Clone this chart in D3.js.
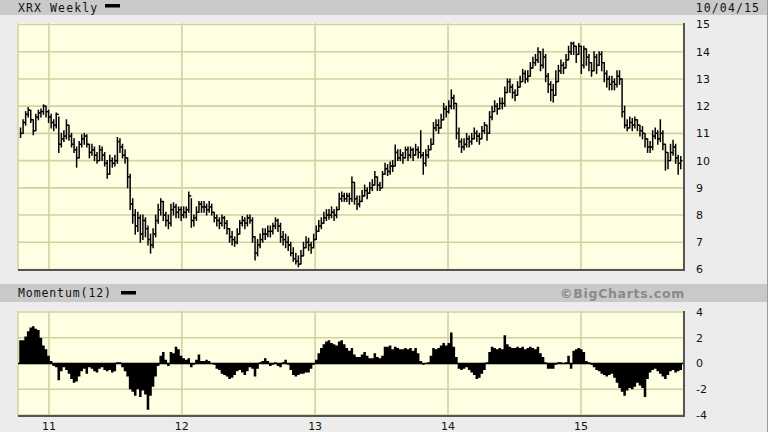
<!DOCTYPE html>
<html><head><meta charset="utf-8">
<script src="https://cdn.jsdelivr.net/npm/d3@7"></script>
<style>body{margin:0;background:#ececec;}svg{display:block}</style>
</head><body>
<svg id="c" width="768" height="432"></svg>
<script>
// ---- data (weekly bars, first week ending 2010-10-15) ----
const symbol = "XRX Weekly";
const dateLabel = "10/04/15";
const indicatorName = "Momentum(12)";
const firstWeek = "2010-10-15";
const highs = [
11.2,11.5,11.8,11.95,11.85,11.5,11.7,11.85,11.9,12.05,12.0,11.85,11.7,11.5,11.75,11.6,11.0,11.1,11.5,11.3,
11.0,10.8,10.5,10.7,10.95,11.0,10.95,10.6,10.6,10.5,10.3,10.55,10.5,10.3,10.0,10.2,10.1,10.2,10.85,10.8,
10.6,10.4,10.1,9.5,8.6,8.2,8.1,8.0,8.0,7.9,7.6,7.3,7.5,8.0,8.4,8.6,8.5,8.1,8.0,8.4,
8.45,8.4,8.3,8.3,8.3,8.3,8.85,8.6,8.0,8.3,8.5,8.5,8.5,8.4,8.5,8.4,8.1,8.0,7.9,8.0,
7.95,7.8,7.5,7.4,7.2,7.5,7.8,7.95,7.9,8.0,8.0,7.9,7.2,7.1,7.3,7.5,7.5,7.6,7.6,7.7,
7.9,7.85,7.7,7.4,7.3,7.2,7.0,6.8,6.6,6.5,6.7,7.0,7.2,7.15,7.0,7.3,7.6,7.8,7.9,8.1,
8.2,8.2,8.3,8.2,8.3,8.8,8.85,8.8,8.8,8.8,9.4,9.2,8.7,8.7,8.9,9.1,9.0,9.2,9.3,9.6,
9.4,9.2,9.6,9.9,9.85,9.95,10.0,10.57,10.4,10.4,10.3,10.5,10.5,10.5,10.45,10.6,10.5,11.1,10.3,10.4,
10.55,10.8,11.4,11.5,11.5,11.7,12.1,12.0,12.2,12.6,12.4,12.1,11.2,10.8,10.8,11.0,10.9,11.0,11.2,11.1,
11.0,11.25,11.4,11.3,11.8,12.0,12.2,12.1,12.3,12.3,12.7,13.0,13.0,12.8,12.6,12.9,13.1,13.35,13.3,13.3,
13.6,13.8,13.9,14.15,14.0,14.1,13.9,13.2,12.9,12.8,13.3,13.5,13.7,13.6,13.9,14.2,14.35,14.35,14.2,14.3,
14.2,14.2,14.1,13.9,13.6,14.0,13.9,14.0,14.0,13.6,13.3,13.1,13.1,13.0,13.3,13.3,13.0,12.0,11.5,11.6,
11.55,11.6,11.5,11.3,11.25,11.0,10.8,10.7,11.1,11.2,11.1,11.5,11.1,10.6,10.3,10.6,10.75,10.6,10.2,10.15];
const lows = [
10.85,11.0,11.3,11.6,11.4,10.95,11.1,11.5,11.6,11.7,11.6,11.4,11.2,11.1,11.2,10.3,10.5,10.7,10.8,10.75,
10.5,10.3,9.76,10.1,10.5,10.6,10.5,10.1,10.2,10.0,9.9,10.0,10.0,9.8,9.35,9.5,9.76,9.8,9.9,10.3,
10.1,9.9,9.0,8.2,7.7,7.3,7.4,7.0,7.1,7.2,6.9,6.6,6.8,7.2,7.7,8.0,7.8,7.6,7.5,7.6,
8.0,7.9,7.9,7.8,7.9,7.9,8.1,7.55,7.6,7.8,8.1,8.1,8.1,8.0,8.1,8.0,7.75,7.6,7.5,7.6,
7.5,7.3,7.0,6.9,6.85,6.95,7.3,7.6,7.5,7.6,7.7,7.0,6.35,6.5,6.8,7.0,7.1,7.2,7.2,7.3,
7.5,7.4,7.0,6.9,6.8,6.7,6.5,6.3,6.2,6.1,6.2,6.5,6.8,6.7,6.6,6.8,7.1,7.4,7.5,7.7,
7.8,7.85,7.9,7.8,7.9,8.2,8.5,8.5,8.5,8.4,8.5,8.4,8.2,8.3,8.5,8.7,8.6,8.8,8.9,9.1,
8.9,8.9,9.0,9.5,9.45,9.5,9.6,9.8,10.0,10.0,9.9,10.1,10.0,10.1,10.0,10.2,10.1,10.1,9.5,9.8,
10.1,10.4,10.6,11.1,11.0,11.2,11.5,11.6,11.75,11.9,11.9,10.8,10.5,10.3,10.4,10.5,10.5,10.6,10.8,10.7,
10.6,10.8,11.0,10.75,11.0,11.5,11.8,11.7,11.9,11.9,12.0,12.5,12.5,12.3,12.2,12.4,12.7,12.9,12.85,12.9,
13.1,13.4,13.5,13.6,13.3,13.4,12.9,12.5,12.2,12.15,12.4,12.9,13.2,13.2,13.4,13.7,13.9,13.9,13.6,13.9,
13.2,13.4,13.5,13.3,13.1,13.3,13.2,13.5,13.3,12.9,12.7,12.6,12.6,12.6,12.7,12.8,11.6,11.2,11.1,11.2,
11.1,11.2,11.1,10.9,10.8,10.5,10.3,10.3,10.4,10.8,10.6,10.7,10.4,9.65,9.7,10.0,10.2,9.9,9.5,9.7];
const closes = [
11.0,11.4,11.7,11.85,11.5,11.1,11.6,11.75,11.8,12.0,11.8,11.6,11.4,11.3,11.7,10.6,10.8,10.9,11.3,10.9,
10.6,10.4,10.1,10.6,10.8,10.9,10.6,10.3,10.4,10.2,10.0,10.4,10.2,9.9,9.5,10.0,9.9,10.0,10.7,10.5,
10.2,10.1,9.4,8.4,8.0,7.6,7.9,7.3,7.8,7.5,7.1,6.9,7.3,7.8,8.2,8.5,8.0,7.8,7.7,8.2,
8.3,8.1,8.2,8.0,8.1,8.2,8.7,7.8,7.9,8.1,8.4,8.3,8.3,8.2,8.3,8.1,7.9,7.8,7.7,7.9,
7.7,7.5,7.2,7.1,7.0,7.3,7.7,7.8,7.7,7.9,7.8,7.2,6.6,6.9,7.1,7.3,7.3,7.4,7.4,7.6,
7.8,7.6,7.2,7.1,7.0,6.9,6.6,6.4,6.3,6.2,6.5,6.8,7.0,6.9,6.8,7.1,7.4,7.6,7.7,7.9,
8.0,8.0,8.1,8.0,8.2,8.6,8.7,8.6,8.7,8.6,9.2,8.6,8.4,8.5,8.7,8.9,8.8,9.0,9.1,9.4,
9.1,9.0,9.5,9.7,9.6,9.8,9.8,10.3,10.1,10.2,10.1,10.4,10.2,10.4,10.2,10.4,10.3,10.2,9.9,10.2,
10.4,10.6,11.2,11.3,11.2,11.5,11.9,11.8,12.0,12.3,12.1,11.0,10.7,10.5,10.6,10.8,10.7,10.8,11.0,10.9,
10.8,11.1,11.3,11.0,11.6,11.8,12.0,11.9,12.1,12.1,12.5,12.9,12.7,12.5,12.4,12.7,12.9,13.2,13.0,13.1,
13.4,13.6,13.7,14.0,13.5,13.8,13.1,12.8,12.6,12.4,12.9,13.3,13.5,13.4,13.7,14.0,14.3,14.2,13.9,14.2,
13.5,14.1,13.8,13.6,13.3,13.8,13.5,13.9,13.6,13.2,13.0,12.8,12.9,12.8,13.1,13.0,11.8,11.3,11.2,11.4,
11.3,11.5,11.3,11.1,11.0,10.8,10.5,10.5,10.9,11.0,10.8,11.0,10.6,10.3,10.0,10.3,10.5,10.1,9.9,10.0];
const momentum = [
1.8,1.8,2.1,2.5,2.8,2.9,2.7,2.6,2.0,1.4,1.1,0.6,0.2,-0.2,-0.3,-1.3,-0.6,-0.3,-0.5,-0.8,
-1.2,-1.5,-1.4,-1.0,-0.6,-0.4,-0.8,-0.3,-0.4,-0.6,-0.7,-0.4,-0.3,-0.5,-0.6,-0.5,-0.7,-0.6,0.1,0.1,
-0.3,-0.6,-1.0,-2.0,-2.2,-2.5,-2.0,-2.6,-2.1,-2.4,-3.6,-2.5,-1.8,-1.0,-0.2,0.6,0.9,0.3,-0.2,0.9,
0.8,1.3,1.1,0.6,0.4,0.3,0.4,-0.3,-0.1,0.3,0.7,0.2,0.2,0.3,0.2,0.0,-0.1,-0.4,-0.5,-0.8,
-0.9,-1.0,-1.2,-1.1,-0.9,-0.6,-0.5,-0.7,-0.9,-0.6,-0.3,-0.4,-1.0,-0.4,0.1,0.2,0.4,0.2,-0.2,-0.1,
0.1,-0.2,-0.3,0.1,0.3,-0.1,-0.5,-0.9,-1.0,-0.9,-0.8,-0.8,-0.7,-0.7,-0.4,-0.1,0.3,0.8,1.2,1.5,
1.7,1.8,1.6,1.5,1.4,1.7,1.8,1.5,1.2,1.0,1.2,0.7,0.5,0.5,0.7,0.9,0.6,0.4,0.4,0.8,
0.5,0.4,0.6,1.3,1.3,1.4,1.1,1.3,1.2,1.1,1.1,1.2,1.1,1.2,1.0,1.2,0.8,0.2,-0.1,0.0,
0.1,0.6,1.2,1.1,1.2,1.4,1.6,1.4,1.6,2.4,1.3,0.5,-0.4,-0.5,-0.4,-0.3,-0.5,-0.7,-0.9,-1.2,
-1.1,-0.8,-0.5,0.1,0.9,1.3,1.2,1.1,1.2,1.1,2.2,1.5,1.3,1.2,1.2,1.3,1.2,1.3,1.1,1.2,
1.3,1.2,1.1,1.3,0.8,0.5,0.1,-0.4,-0.4,-0.4,-0.1,0.1,0.1,0.0,0.1,0.6,-0.4,1.0,1.1,1.2,
1.1,0.9,0.2,0.1,-0.1,-0.3,-0.5,-0.6,-0.8,-0.9,-1.0,-0.9,-0.8,-1.1,-1.5,-1.9,-2.2,-2.5,-2.1,-1.9,
-2.0,-1.8,-1.5,-1.7,-1.9,-2.6,-1.2,-0.7,-0.5,-0.4,-0.6,-0.8,-1.0,-1.2,-0.9,-0.6,-0.5,-0.7,-0.6,-0.5];
const priceTicks = [6,7,8,9,10,11,12,13,14,15];
const momTicks = [-4,-2,0,2,4];
const yearStarts = ["2011-01-01","2012-01-01","2013-01-01","2014-01-01","2015-01-01"];
const yearLabels = ["11","12","13","14","15"];
const xDomain = ["2010-10-08","2015-10-11"];

// ---- layout ----
const svg = d3.select("#c");
const parse = d3.utcParse("%Y-%m-%d");
const t0 = parse(firstWeek);
const dates = closes.map((_, i) => d3.utcDay.offset(t0, 7 * i));
const L = 18, R = 684;
const P1 = {top: 23, bottom: 270};
const P2 = {top: 311, bottom: 416};

const x = d3.scaleUtc().domain(xDomain.map(parse)).range([L, R]);
const y1 = d3.scaleLinear().domain([6, 15]).range([269.5, 24.5]);
const y2 = d3.scaleLinear().domain([-4, 4]).range([415, 312]);

const grid = "#d4d1a0";
const bg = "#fefee3";
const monoFont = "'DejaVu Sans Mono', monospace";
const sansFont = "'DejaVu Sans', Verdana, sans-serif";

// background
svg.append("rect").attr("width", 768).attr("height", 432).attr("fill", "#ececec");
svg.append("line").attr("x1", 767.5).attr("x2", 767.5).attr("y1", 0).attr("y2", 432).attr("stroke", "#9a9a9a");

// header bands
svg.append("rect").attr("x", 0).attr("y", 0).attr("width", 767).attr("height", 15).attr("fill", "#c9c9c9");
svg.append("rect").attr("x", 0).attr("y", 284).attr("width", 767).attr("height", 18).attr("fill", "#c9c9c9");

svg.append("text").attr("x", 18).attr("y", 11.5).attr("font-family", monoFont).attr("font-size", 11.5)
  .attr("letter-spacing", 1.1).attr("fill", "#111").text(symbol);
svg.append("rect").attr("x", 105).attr("y", 4).attr("width", 15).attr("height", 3.5).attr("fill", "#000");
svg.append("text").attr("x", 760).attr("y", 11.5).attr("text-anchor", "end").attr("font-family", monoFont)
  .attr("font-size", 11.5).attr("letter-spacing", 1.1).attr("fill", "#111").text(dateLabel);

svg.append("text").attr("x", 18).attr("y", 297).attr("font-family", monoFont).attr("font-size", 11.5)
  .attr("letter-spacing", 0.9).attr("fill", "#111").text(indicatorName);
svg.append("rect").attr("x", 121).attr("y", 291).attr("width", 15).attr("height", 3.5).attr("fill", "#000");
svg.append("text").attr("x", 685).attr("y", 298).attr("text-anchor", "end").attr("font-family", sansFont)
  .attr("font-weight", "bold").attr("font-size", 12.5).attr("letter-spacing", 0.7).attr("fill", "#8a8a8a")
  .text("\u00A9BigCharts.com");

function panel(top, bottom, yScale, ticks) {
  const g = svg.append("g");
  g.append("rect").attr("x", L).attr("y", top).attr("width", R - L).attr("height", bottom - top).attr("fill", bg);
  g.selectAll("line.h").data(ticks).join("line")
    .attr("x1", L).attr("x2", R).attr("y1", d => yScale(d)).attr("y2", d => yScale(d))
    .attr("stroke", grid).attr("stroke-width", 1.6);
  g.selectAll("line.v").data(yearStarts).join("line")
    .attr("x1", d => x(parse(d))).attr("x2", d => x(parse(d)))
    .attr("y1", top).attr("y2", bottom).attr("stroke", grid).attr("stroke-width", 1.6);
  g.append("line").attr("x1", L).attr("x2", L).attr("y1", top).attr("y2", bottom).attr("stroke", grid).attr("stroke-width", 1.5);
  g.selectAll("text").data(ticks).join("text")
    .attr("x", 696).attr("y", d => yScale(d)).attr("dy", "0.36em")
    .attr("font-family", sansFont).attr("font-size", 11).attr("fill", "#111").text(d => d);
  return g;
}

// ---- price panel ----
panel(P1.top, P1.bottom, y1, priceTicks);
const bars = svg.append("g").attr("stroke", "#000");
closes.forEach((c, i) => {
  const xi = x(dates[i]);
  bars.append("line").attr("x1", xi).attr("x2", xi).attr("y1", y1(highs[i]) - 0.5).attr("y2", y1(lows[i]) + 0.5)
    .attr("stroke-width", 1.5);
  bars.append("line").attr("x1", xi).attr("x2", xi + 1.8).attr("y1", y1(c)).attr("y2", y1(c)).attr("stroke-width", 1.3);
  if (i > 0) bars.append("line").attr("x1", xi - 1.8).attr("x2", xi).attr("y1", y1(closes[i - 1])).attr("y2", y1(closes[i - 1]))
    .attr("stroke-width", 1.3);
});
svg.append("path").attr("d", `M${L},${P1.bottom}H${R}V${P1.top}`).attr("fill", "none").attr("stroke", "#555").attr("stroke-width", 2);

// ---- momentum panel ----
panel(P2.top, P2.bottom, y2, momTicks);
const n = dates.length;
svg.append("path").datum(momentum.concat([momentum[n - 1]]))
  .attr("d", d3.area().curve(d3.curveStepAfter)
    .x((d, i) => i < n ? x(dates[i]) - 1.3 : x(dates[n - 1]) + 1.3)
    .y0(y2(0)).y1(d => y2(d)))
  .attr("fill", "#000");
svg.append("line").attr("x1", L).attr("x2", R).attr("y1", y2(0)).attr("y2", y2(0)).attr("stroke", "#000").attr("stroke-width", 1.5);
svg.append("path").attr("d", `M${L},${P2.bottom}H${R}V${P2.top}`).attr("fill", "none").attr("stroke", "#555").attr("stroke-width", 2);

// x axis labels
svg.append("g").selectAll("text").data(yearStarts).join("text")
  .attr("x", d => x(parse(d))).attr("y", 430).attr("text-anchor", "middle")
  .attr("font-family", sansFont).attr("font-size", 11).attr("fill", "#111")
  .text((d, i) => yearLabels[i]);
</script>
</body></html>
